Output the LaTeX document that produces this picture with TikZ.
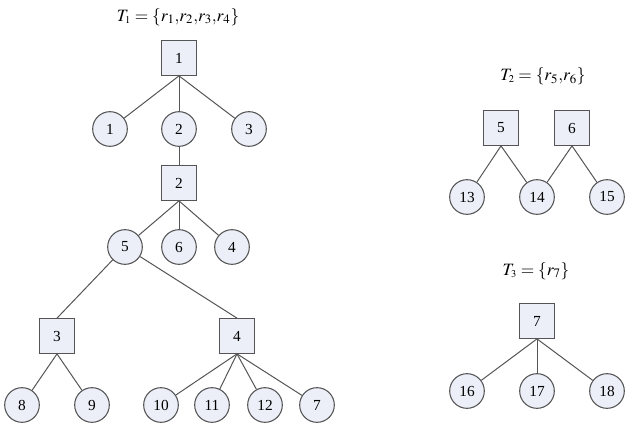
\documentclass[tikz,border=0pt]{standalone}
\usepackage{amsmath}
\usepackage{mathptmx}
\usepackage{fontspec}
\setmainfont{Liberation Serif}
\usetikzlibrary{positioning}
\definecolor{boxfill}{RGB}{236,239,248}
\definecolor{boxline}{RGB}{85,85,85}

\begin{document}
\begin{tikzpicture}[x=0.75pt, y=-0.75pt,
    rule/.style={draw=boxline, fill=boxfill, line width=0.8pt, minimum size=26pt, inner sep=0pt, font=\fontsize{11.5}{13}\selectfont},
    elem/.style={draw=boxline, fill=boxfill, circle, line width=0.8pt, minimum size=26pt, inner sep=0pt, font=\fontsize{11.5}{13}\selectfont},
    link/.style={draw=boxline, line width=0.75pt},
    title/.style={font=\fontsize{13}{15}\selectfont}]
                \useasboundingbox (0,0) rectangle (644,429);

                % T1
                \node[title] (T1) at (178,17) {$T_{\scriptscriptstyle 1}=\{r_1{,}r_2{,}r_3{,}r_4\}$};
                \node[rule] (r1) at (179,58) {1};
                \node[elem] (e1) at (110,129) {1};
                \node[elem] (e2) at (179,129) {2};
                \node[elem] (e3) at (249,129) {3};
                \node[rule] (r2) at (179,183) {2};
                \node[elem] (e5) at (125,247) {5};
                \node[elem] (e6) at (179,247) {6};
                \node[elem] (e4) at (232,247) {4};
                \node[rule] (r3) at (57,336) {3};
                \node[rule] (r4) at (237,336) {4};
                \node[elem] (e8)  at (22,405)  {8};
                \node[elem] (e9)  at (92,405)  {9};
                \node[elem] (e10) at (161,405) {10};
                \node[elem] (e11) at (212,405) {11};
                \node[elem] (e12) at (265,405) {12};
                \node[elem] (e7)  at (317,405) {7};

                \path[link] (r1.south) edge (e1) edge (e2) edge (e3);
                \path[link] (e2) edge (r2);
                \path[link] (r2.south) edge (e5) edge (e6) edge (e4);
                \path[link] (e5) edge (r3.north) edge (r4.north);
                \path[link] (r3.south) edge (e8) edge (e9);
                \path[link] (r4.south) edge (e10) edge (e11) edge (e12) edge (e7);

                % T2
                \node[title] (T2) at (543,76) {$T_{\scriptscriptstyle 2}=\{r_5{,}r_6\}$};
                \node[rule] (r5) at (501,128) {5};
                \node[rule] (r6) at (572,128) {6};
                \node[elem] (e13) at (467,197) {13};
                \node[elem] (e14) at (537,197) {14};
                \node[elem] (e15) at (607,197) {15};

                \path[link] (r5.south) edge (e13) edge (e14);
                \path[link] (r6.south) edge (e14) edge (e15);

                % T3
                \node[title] (T3) at (536,271) {$T_{\scriptscriptstyle 3}=\{r_7\}$};
                \node[rule] (r7) at (537,321) {7};
                \node[elem] (e16) at (467,391) {16};
                \node[elem] (e17) at (537,391) {17};
                \node[elem] (e18) at (607,391) {18};

                \path[link] (r7.south) edge (e16) edge (e17) edge (e18);
            \end{tikzpicture}
\end{document}
